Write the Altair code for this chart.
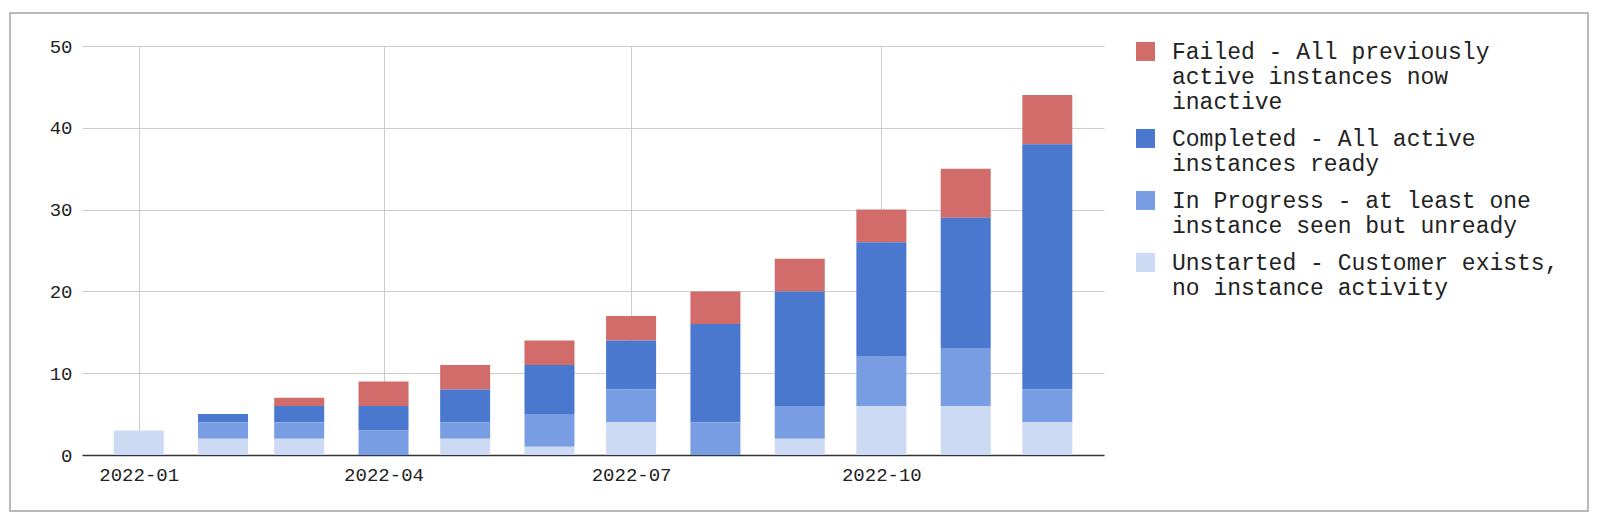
import altair as alt
import pandas as pd

# ---- data ----
months = ["2022-01-01", "2022-02-01", "2022-03-01", "2022-04-01", "2022-05-01", "2022-06-01",
          "2022-07-01", "2022-08-01", "2022-09-01", "2022-10-01", "2022-11-01", "2022-12-01"]
unstarted = [3, 2, 2, 0, 2, 1, 4, 0, 2, 6, 6, 4]
in_progress = [0, 2, 2, 3, 2, 4, 4, 4, 4, 6, 7, 4]
completed = [0, 1, 2, 3, 4, 6, 6, 12, 14, 14, 16, 30]
failed = [0, 0, 1, 3, 3, 3, 3, 4, 4, 4, 6, 6]

status_labels = [
    "Failed - All previously\nactive instances now\ninactive",
    "Completed - All active\ninstances ready",
    "In Progress - at least one\ninstance seen but unready",
    "Unstarted - Customer exists,\nno instance activity",
]
status_colors = ["#d16c6a", "#4a78cf", "#789de2", "#ccdaf4"]
x_tick_months = [1, 4, 7, 10]
y_ticks = [0, 10, 20, 30, 40, 50]

FONT = "Courier New, Liberation Mono, monospace"

series = [failed, completed, in_progress, unstarted]
rows = []
for i, (lab, vals) in enumerate(zip(status_labels, series)):
    for m, v in zip(months, vals):
        rows.append({"month": m, "status": lab, "count": v, "rank": 3 - i})
df = pd.DataFrame(rows)

x_values = [alt.DateTime(year=2022, month=m, date=1, utc=True) for m in x_tick_months]
x_domain = [alt.DateTime(year=2021, month=12, date=13, utc=True),
            alt.DateTime(year=2022, month=12, date=20, utc=True)]

# square legend swatch, drawn slightly lower so it sits beside the first label line
swatch = "M-1,0.1H1V2.1H-1Z"

bars = alt.Chart(df).mark_bar(width=50).encode(
    x=alt.X("month:T",
            scale=alt.Scale(type="utc", domain=x_domain),
            axis=alt.Axis(values=x_values, format="%Y-%m", title=None, ticks=False,
                          domainColor="#333333", domainWidth=1.5,
                          gridColor="#cccccc", gridWidth=1, labelPadding=10,
                          labelFont=FONT, labelFontSize=19, labelColor="#222222")),
    y=alt.Y("count:Q", stack="zero",
            scale=alt.Scale(domain=[0, 50]),
            axis=alt.Axis(values=y_ticks, title=None, domain=False, ticks=False,
                          gridColor="#cccccc", gridWidth=1, labelPadding=10,
                          labelFont=FONT, labelFontSize=19, labelColor="#222222")),
    color=alt.Color("status:N",
                    scale=alt.Scale(domain=status_labels, range=status_colors),
                    legend=alt.Legend(title=None, orient="none", legendX=1052, legendY=-16.5,
                                      symbolType=swatch, symbolSize=361, symbolStrokeWidth=0,
                                      symbolOpacity=1,
                                      labelFont=FONT, labelFontSize=23, labelColor="#222222",
                                      labelOffset=15, labelBaseline="top", labelLimit=600,
                                      labelExpr="split(datum.label, '\\n')",
                                      rowPadding=2, padding=0)),
    order=alt.Order("rank:Q", sort="ascending"),
)

frame = alt.Chart(alt.Data(values=[{}])).mark_rect(
    fillOpacity=0, stroke="#a3a3a3", strokeWidth=1.5
).encode(
    x=alt.value(-72), x2=alt.value(1506), y=alt.value(-33), y2=alt.value(465)
)

chart = alt.layer(frame, bars).properties(
    width=1022, height=409,
    padding={"left": 1, "top": 4, "right": 0, "bottom": 0},
).configure_view(strokeWidth=0)

chart.save("out.html", embed_options={"renderer": "svg", "actions": False})
